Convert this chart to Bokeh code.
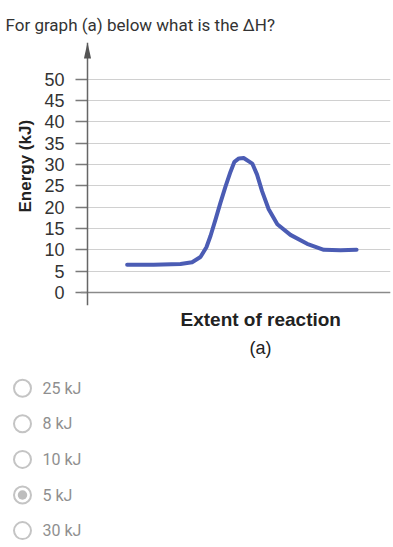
from bokeh.plotting import figure
from bokeh.models import Span, PolyAnnotation, FixedTicker, Range1d, ColumnDataSource, Title
from bokeh.core.properties import value
from bokeh.embed import file_html
from bokeh.resources import INLINE

# ---------------- data ----------------
question = "For graph (a) below what is the ΔH?"
y_label = "Energy (kJ)"
x_label = "Extent of reaction"
sub_label = "(a)"
y_ticks = [0, 5, 10, 15, 20, 25, 30, 35, 40, 45, 50]
extent = [13.3, 22.2, 31.2, 35.1, 37.9, 39.9, 41.3, 43.0, 44.6, 46.3, 48.0, 49.3,
          50.8, 52.4, 55.3, 56.9, 58.6, 60.8, 63.7, 68.1, 73.7, 79.3, 84.9, 90.3]
energy = [6.5, 6.5, 6.7, 7.1, 8.3, 10.6, 13.3, 17.2, 21.0, 24.8, 28.3, 30.6,
          31.4, 31.5, 30.2, 27.6, 23.7, 19.5, 16.0, 13.5, 11.4, 10.0, 9.9, 10.0]
answers = ["25 kJ", "8 kJ", "10 kJ", "5 kJ", "30 kJ"]
selected = "5 kJ"

# ---------------- chart ----------------
p = figure(width=393, height=365, x_range=Range1d(-2.35, 101.68), y_range=Range1d(-3.04, 58.55),
           x_axis_location=None, y_axis_location="left",
           min_border_left=80, min_border_right=3, min_border_top=42, min_border_bottom=60,
           output_backend="svg", toolbar_location=None, outline_line_color=None)
p.xgrid.visible = False
ax = p.yaxis[0]
ax.ticker = FixedTicker(ticks=y_ticks)
ax.major_tick_out = 5
ax.major_tick_in = 7
ax.minor_tick_line_color = None
ax.axis_line_color = None
ax.major_tick_line_color = "#7a7a7a"
ax.major_tick_line_width = 1.5
ax.major_label_text_font = "Liberation Sans"
ax.major_label_text_font_size = "18px"
ax.major_label_text_color = "#333333"
ax.major_label_standoff = 11
p.ygrid.ticker = FixedTicker(ticks=y_ticks)
p.ygrid.grid_line_color = "#d0d0d0"
p.ygrid.grid_line_width = 1

# axes lines (y axis at extent 0, x axis at energy 0) and arrow head
p.add_layout(Span(location=0, dimension="width", line_color="#8a8a8a", line_width=1.5))
p.add_layout(Span(location=0, dimension="height", line_color="#666666", line_width=1.5))
p.add_layout(PolyAnnotation(xs=[-1.2, 0, 1.2], ys=[54.8, 58.55, 54.8],
                            fill_color="#555555", fill_alpha=1, line_color=None))

p.line(extent, energy, line_width=4, color="#4b5cb4", line_join="round", line_cap="round")

p.title = Title(text=question, align="left", offset=-75, standoff=16, text_font="Roboto",
                text_font_size="17px", text_font_style="normal", text_color="#333333")
p.add_layout(Title(text=y_label, align="left", offset=93, standoff=13,
                   text_font="Liberation Sans", text_font_size="17px",
                   text_font_style="bold", text_color="#222222"), "left")
p.add_layout(Title(text=x_label, align="left", offset=100, standoff=3,
                   text_font="Liberation Sans", text_font_size="19px",
                   text_font_style="bold", text_color="#222222"), "below")
p.add_layout(Title(text=sub_label, align="left", offset=169, standoff=8,
                   text_font="Liberation Sans", text_font_size="18px",
                   text_font_style="normal", text_color="#222222"), "below")

# ---------------- answers ----------------
a = figure(width=393, height=182, x_range=Range1d(0, 393), y_range=Range1d(182, 0),
           x_axis_location=None, y_axis_location=None, min_border=0,
           output_backend="svg", toolbar_location=None, outline_line_color=None)
a.grid.visible = False
ys = [22.7 + 35.6 * i for i in range(len(answers))]
src = ColumnDataSource(dict(x=[22] * len(answers), tx=[42] * len(answers), y=ys, t=answers))
a.scatter("x", "y", source=src, size=17, marker="circle", fill_color="white",
          line_color="#c4c4c4", line_width=2)
i_sel = answers.index(selected)
a.scatter([22], [ys[i_sel]], size=9.5, marker="circle", fill_color="#bdbdbd", line_color=None)
a.text("tx", "y", text="t", source=src, text_font=value("Roboto"), text_font_size="16px",
       text_color="#8f8f8f", text_baseline="middle", text_align="left")

open("out.html", "w").write(file_html([p, a], INLINE))
